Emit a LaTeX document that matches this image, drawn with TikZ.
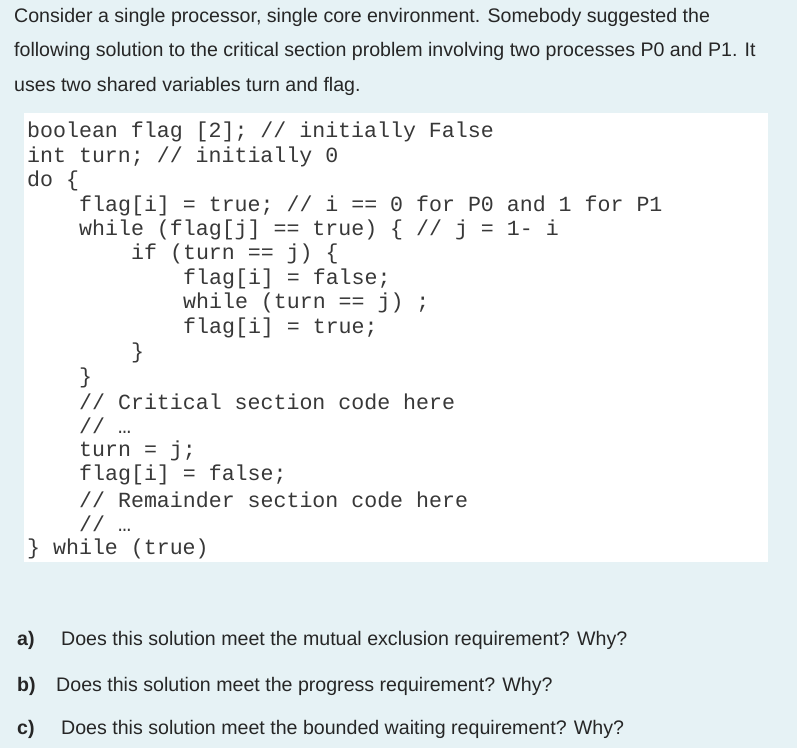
\documentclass[tikz,border=0pt]{standalone}
\usepackage{fontspec}
\setmainfont{Liberation Sans}
\newfontfamily\cmono{Liberation Mono}
\begin{document}
\begin{tikzpicture}[x=1pt,y=-1pt,
  txt/.style={anchor=west,inner sep=0pt,font=\fontsize{19.6}{22}\selectfont,text=black!85},
  code/.style={anchor=west,inner sep=0pt,font=\cmono\fontsize{21.6}{24}\selectfont,text=black!78}]
\fill[fill={rgb,255:red,230;green,242;blue,245}] (0,0) rectangle (797,748);
\useasboundingbox (0,0) rectangle (797,748);
\fill[white] (24,113) rectangle (768,562);
\node[txt] (t1) at (14,17) {Consider a single processor, single core environment. Somebody suggested the};
\node[txt] (t2) at (14,51) {following solution to the critical section problem involving two processes P0 and P1. It};
\node[txt] (t3) at (14,86) {uses two shared variables turn and flag.};
\foreach \y/\x/\s [count=\k] in {
132/27/{boolean flag [2]; // initially False},
157/27/{int turn; // initially 0},
181/27/{do \{},
206/79/{flag[i] = true; // i == 0 for P0 and 1 for P1},
230/79/{while (flag[j] == true) \{ // j = 1- i},
254/131/{if (turn == j) \{},
279/183/{flag[i] = false;},
303/183/{while (turn == j) ;},
328/183/{flag[i] = true;},
353/131/{\}},
378/79/{\}},
402/79/{// Critical section code here},
426/79/{// …},
451/79/{turn = j;},
475/79/{flag[i] = false;},
500/79/{// Remainder section code here},
524/79/{// …},
549/27/{\} while (true)}}
  \node[code] (c\k) at (\x,\y) {\s};
\node[txt,font=\bfseries\fontsize{19.6}{22}\selectfont] (qa) at (17,640) {a)};
\node[txt] (qat) at (61,640) {Does this solution meet the mutual exclusion requirement? Why?};
\node[txt,font=\bfseries\fontsize{19.6}{22}\selectfont] (qb) at (17,686) {b)};
\node[txt] (qbt) at (56,686) {Does this solution meet the progress requirement? Why?};
\node[txt,font=\bfseries\fontsize{19.6}{22}\selectfont] (qc) at (17,729) {c)};
\node[txt] (qct) at (61,729) {Does this solution meet the bounded waiting requirement? Why?};
\end{tikzpicture}
\end{document}
